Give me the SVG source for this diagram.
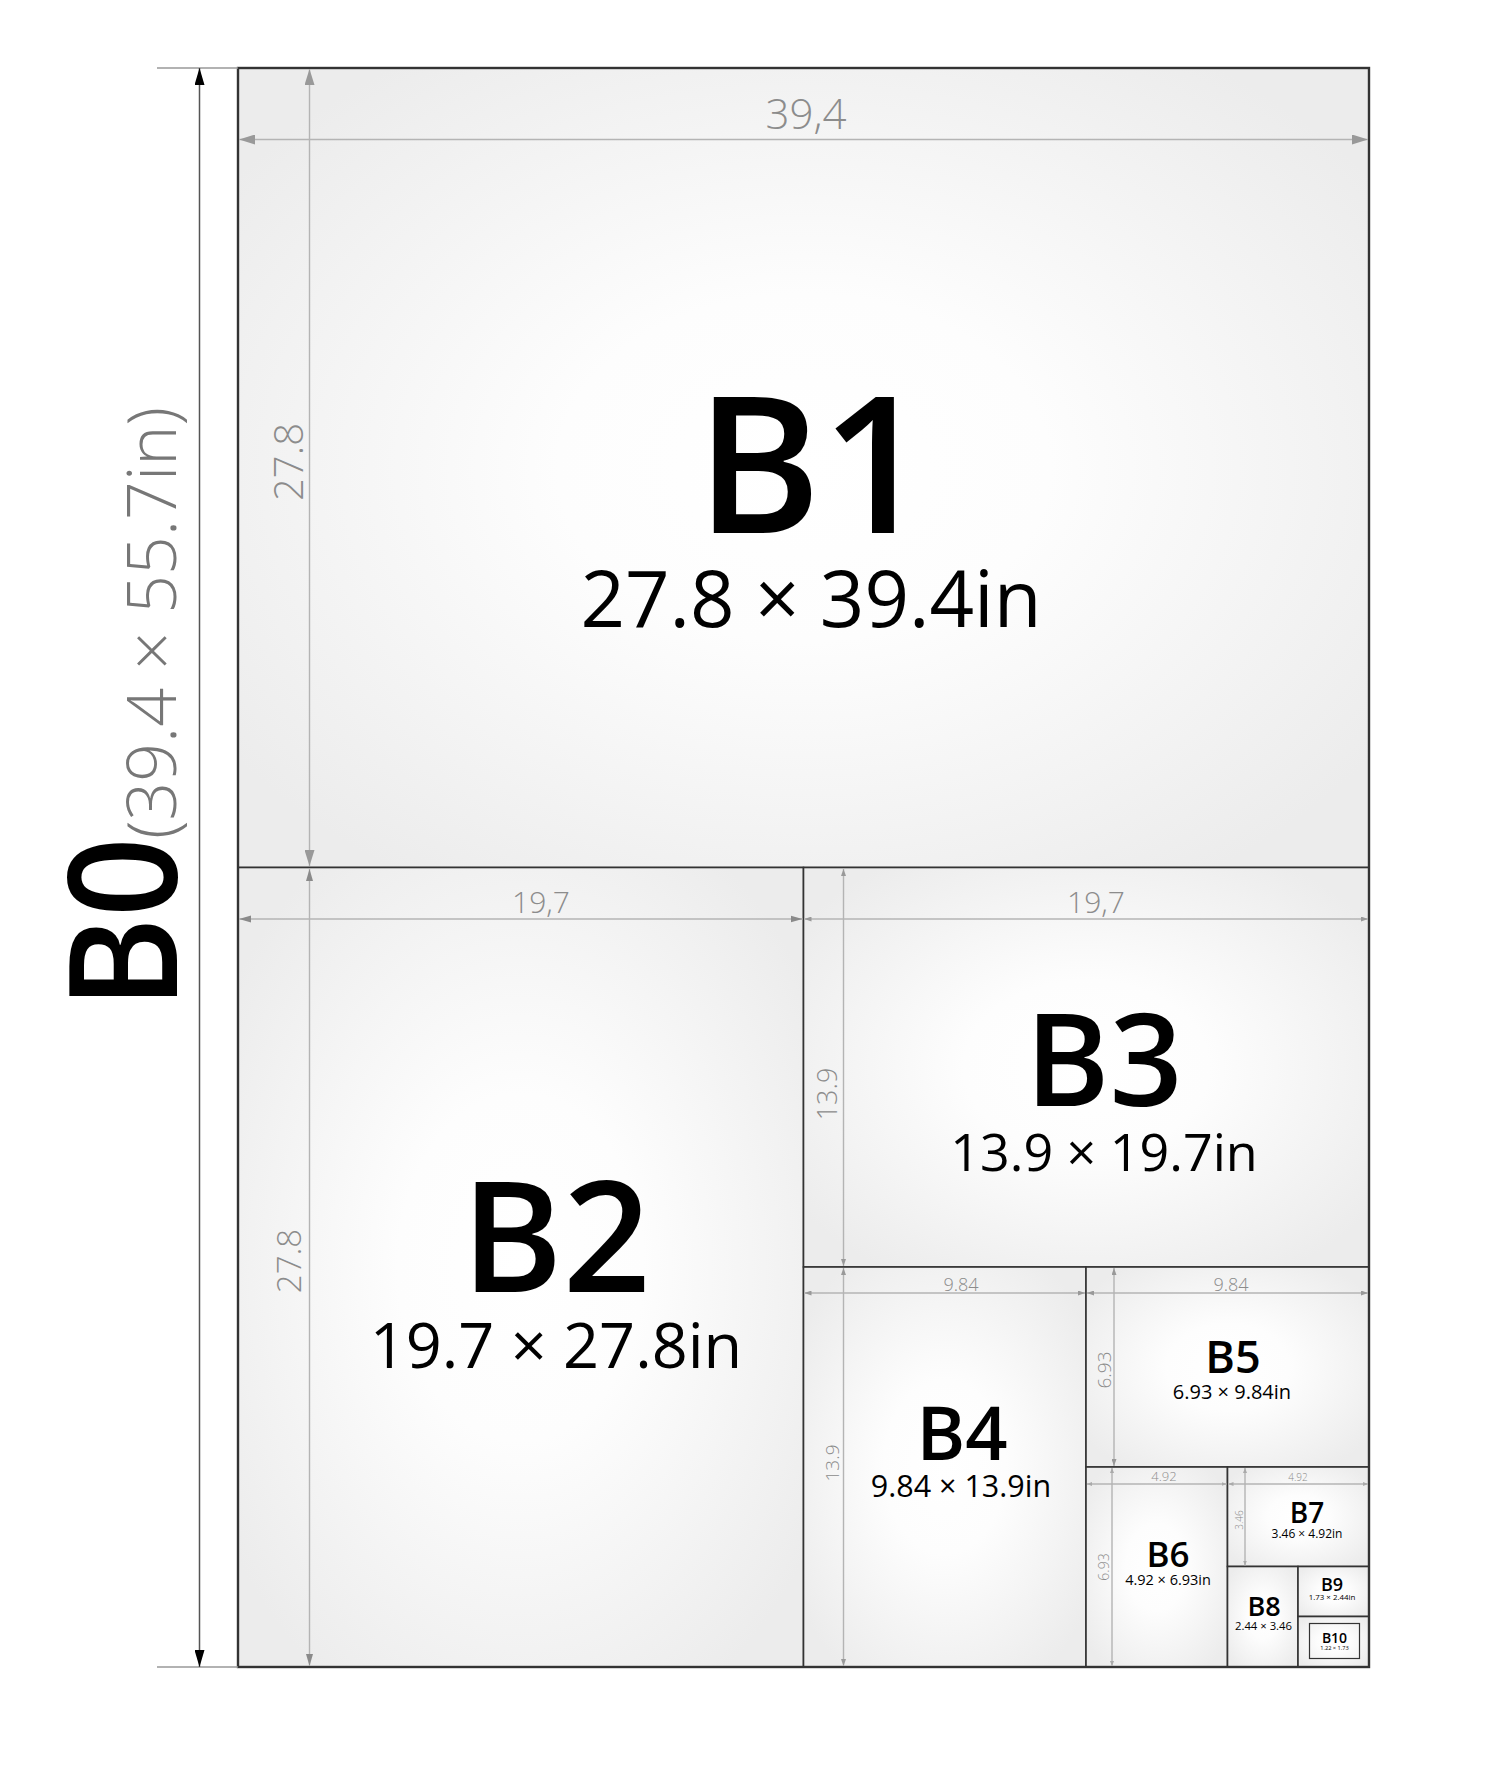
<svg xmlns="http://www.w3.org/2000/svg" width="1500" height="1779" viewBox="0 0 1500 1779">
<style>
.pg{fill:url(#g);stroke:#333;stroke-width:1.6}
.t{font-family:"Open Sans","Liberation Sans",sans-serif;font-weight:600;fill:#000;text-anchor:middle}
.s{font-family:"Open Sans","Liberation Sans",sans-serif;font-weight:400;fill:#000;text-anchor:middle}
.d{font-family:"Open Sans","Liberation Sans",sans-serif;font-weight:300;fill:#8c8c8c;text-anchor:middle}
.dl{stroke:#b4b4b4;stroke-width:1.4;fill:none}
</style>
<defs>
<radialGradient id="g" cx="0.5" cy="0.5" r="0.62">
<stop offset="0" stop-color="#ffffff"/>
<stop offset="0.35" stop-color="#fdfdfd"/>
<stop offset="1" stop-color="#ececec"/>
</radialGradient>
<marker id="aK" markerUnits="userSpaceOnUse" markerWidth="18" markerHeight="10" refX="17" refY="5" orient="auto-start-reverse"><path d="M0,0 L17,5 L0,10 z" fill="#000"/></marker>
<marker id="aL" markerUnits="userSpaceOnUse" markerWidth="16" markerHeight="10" refX="16" refY="5" orient="auto-start-reverse"><path d="M0,0 L16,5 L0,10 z" fill="#999"/></marker>
<marker id="aM" markerUnits="userSpaceOnUse" markerWidth="12" markerHeight="8" refX="12" refY="4" orient="auto-start-reverse"><path d="M0,0.5 L12,4 L0,7.5 z" fill="#8a8a8a"/></marker>
<marker id="aS" markerUnits="userSpaceOnUse" markerWidth="7" markerHeight="5" refX="7" refY="2.5" orient="auto-start-reverse"><path d="M0,0 L7,2.5 L0,5 z" fill="#999"/></marker>
<marker id="aX" markerUnits="userSpaceOnUse" markerWidth="5" markerHeight="4" refX="5" refY="2" orient="auto-start-reverse"><path d="M0,0 L5,2 L0,4 z" fill="#aaa"/></marker>
</defs>
<rect width="1500" height="1779" fill="#fff"/>

<g id="B1"><rect class="pg" x="238" y="68" width="1131" height="799.5"/>
<text class="t" x="813" y="533" font-size="190">B1</text>
<text class="s" x="811" y="627" font-size="78">27.8 × 39.4in</text></g>
<g id="B2"><rect class="pg" x="238" y="867.5" width="565.5" height="799.5"/>
<text class="t" x="556" y="1292" font-size="154">B2</text>
<text class="s" x="556" y="1368" font-size="63">19.7 × 27.8in</text></g>
<g id="B3"><rect class="pg" x="803.5" y="867.5" width="565.5" height="399.5"/>
<text class="t" x="1104" y="1106" font-size="128">B3</text>
<text class="s" x="1104" y="1171" font-size="52">13.9 × 19.7in</text></g>
<g id="B4"><rect class="pg" x="803.5" y="1267" width="282.5" height="400"/>
<text class="t" x="962" y="1460" font-size="74">B4</text>
<text class="s" x="961" y="1497" font-size="30.5">9.84 × 13.9in</text></g>
<g id="B5"><rect class="pg" x="1086" y="1267" width="283" height="200"/>
<text class="t" x="1233" y="1373" font-size="45">B5</text>
<text class="s" x="1232" y="1399" font-size="20">6.93 × 9.84in</text></g>
<g id="B6"><rect class="pg" x="1086" y="1467" width="141.5" height="200"/>
<text class="t" x="1168" y="1567" font-size="35">B6</text>
<text class="s" x="1168" y="1585" font-size="14.5">4.92 × 6.93in</text></g>
<g id="B7"><rect class="pg" x="1227.5" y="1467" width="141.5" height="99.5"/>
<text class="t" x="1307" y="1523" font-size="28">B7</text>
<text class="s" x="1307" y="1538" font-size="12">3.46 × 4.92in</text></g>
<g id="B8"><rect class="pg" x="1227.5" y="1566.5" width="70.5" height="100.5"/>
<text class="t" x="1264" y="1616" font-size="27">B8</text>
<text class="s" x="1263.5" y="1630" font-size="11.3">2.44 × 3.46</text></g>
<g id="B9"><rect class="pg" x="1298" y="1566.5" width="71" height="50"/>
<text class="t" x="1332" y="1591" font-size="18">B9</text>
<text class="s" x="1332" y="1600" font-size="7.9">1.73 × 2.44in</text></g>
<g id="B10"><rect class="pg" x="1298" y="1616.5" width="71" height="50.5"/>
<rect x="1309.5" y="1623.5" width="50" height="35" fill="none" stroke="#333" stroke-width="1.2"/>
<text class="t" x="1334.5" y="1643" font-size="14">B10</text>
<text class="s" x="1334.5" y="1649.5" font-size="5.7">1.22 × 1.73</text></g>

<g id="B0">
<rect x="238" y="68" width="1131" height="1599" fill="none" stroke="#333" stroke-width="2.4"/>
<text transform="translate(177,1009) rotate(-90) scale(0.93,1)" font-family="Open Sans, Liberation Sans, sans-serif" font-weight="600" font-size="150" fill="#000">B0</text>
<text transform="translate(176,839) rotate(-90)" font-family="Open Sans, Liberation Sans, sans-serif" font-weight="300" font-size="68" fill="#777">(39.4 × 55.7in)</text>
</g>

<g id="connectors">
<line x1="157" y1="68" x2="238" y2="68" stroke="#999" stroke-width="1.5"/>
<line x1="157" y1="1667" x2="238" y2="1667" stroke="#999" stroke-width="1.5"/>
<line x1="199.5" y1="68" x2="199.5" y2="1667" stroke="#555" stroke-width="1.5" marker-start="url(#aK)" marker-end="url(#aK)"/>

<line class="dl" x1="239" y1="139.5" x2="1368" y2="139.5" marker-start="url(#aL)" marker-end="url(#aL)"/>
<line class="dl" x1="309.5" y1="69" x2="309.5" y2="866" marker-start="url(#aL)" marker-end="url(#aL)"/>
<line class="dl" x1="239" y1="919" x2="802.5" y2="919" marker-start="url(#aM)" marker-end="url(#aM)"/>
<line class="dl" x1="309.5" y1="869" x2="309.5" y2="1666" marker-start="url(#aM)" marker-end="url(#aM)"/>
<line class="dl" x1="804.5" y1="919" x2="1368" y2="919" marker-start="url(#aS)" marker-end="url(#aS)"/>
<line class="dl" x1="843.5" y1="869" x2="843.5" y2="1266" marker-start="url(#aS)" marker-end="url(#aS)"/>
<line class="dl" x1="804.5" y1="1293" x2="1085" y2="1293" marker-start="url(#aS)" marker-end="url(#aS)"/>
<line class="dl" x1="843.5" y1="1268" x2="843.5" y2="1666" marker-start="url(#aS)" marker-end="url(#aS)"/>
<line class="dl" x1="1087" y1="1293" x2="1368" y2="1293" marker-start="url(#aS)" marker-end="url(#aS)"/>
<line class="dl" x1="1114" y1="1268" x2="1114" y2="1466" marker-start="url(#aS)" marker-end="url(#aS)"/>
<line class="dl" x1="1087" y1="1484" x2="1226.5" y2="1484" stroke-width="1" marker-start="url(#aX)" marker-end="url(#aX)"/>
<line class="dl" x1="1112" y1="1468" x2="1112" y2="1666" stroke-width="1" marker-start="url(#aX)" marker-end="url(#aX)"/>
<line class="dl" x1="1228.5" y1="1484" x2="1368" y2="1484" stroke-width="1" marker-start="url(#aX)" marker-end="url(#aX)"/>
<line class="dl" x1="1245" y1="1468" x2="1245" y2="1565.5" stroke-width="1" marker-start="url(#aX)" marker-end="url(#aX)"/>

<text class="d" x="806" y="129" font-size="42">39,4</text>
<text class="d" transform="translate(303,462) rotate(-90)" font-size="40">27.8</text>
<text class="d" x="541" y="913" font-size="30">19,7</text>
<text class="d" x="1096" y="913" font-size="30">19,7</text>
<text class="d" transform="translate(301,1261) rotate(-90)" font-size="33">27.8</text>
<text class="d" transform="translate(837,1094) rotate(-90)" font-size="27">13.9</text>
<text class="d" x="961" y="1291" font-size="18">9.84</text>
<text class="d" x="1231" y="1291" font-size="18">9.84</text>
<text class="d" transform="translate(839,1463) rotate(-90)" font-size="19">13.9</text>
<text class="d" transform="translate(1111,1370) rotate(-90)" font-size="19">6.93</text>
<text class="d" x="1164" y="1481" font-size="13">4.92</text>
<text class="d" transform="translate(1109,1567) rotate(-90)" font-size="14">6.93</text>
<text class="d" x="1298" y="1481" font-size="10">4.92</text>
<text class="d" transform="translate(1243,1520) rotate(-90)" font-size="10">3.46</text>
</g>
</svg>
